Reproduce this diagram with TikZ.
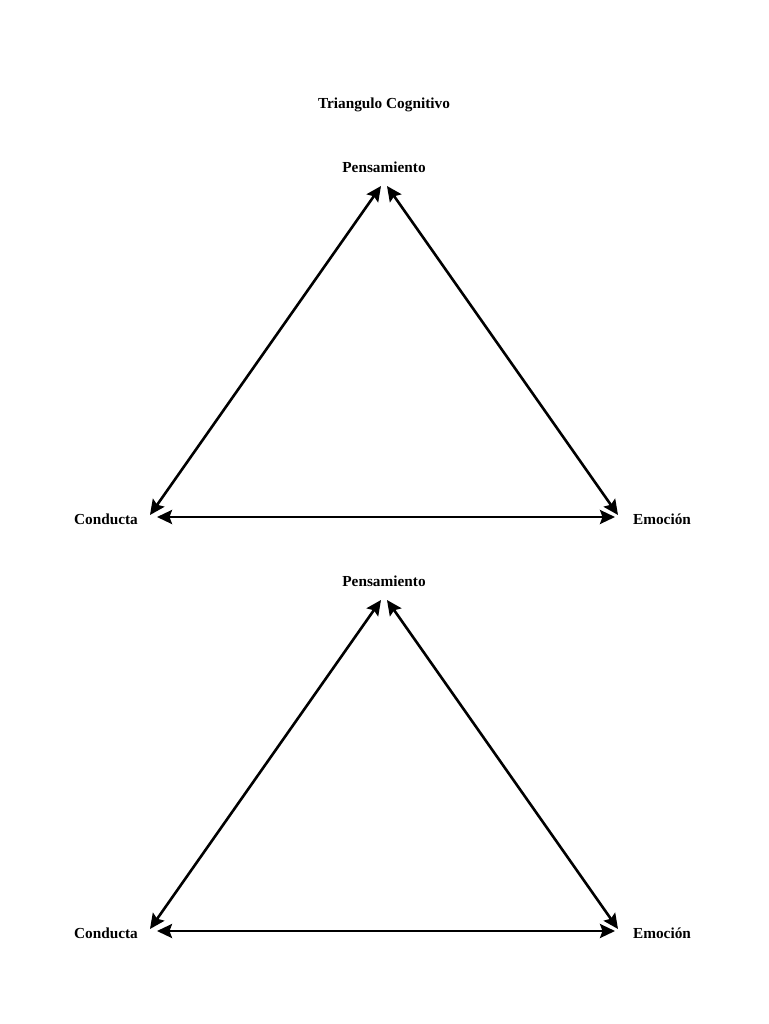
\documentclass[tikz,border=0pt]{standalone}
\usepackage{fontspec}
\setmainfont{Liberation Serif}
\usetikzlibrary{arrows.meta}
\tikzset{
  lbl/.style={font=\bfseries\fontsize{15.3}{17}\selectfont, inner sep=0pt},
  tip/.tip={Stealth[length=15pt,width=14pt,inset=2.5pt,fill=black]},
  edge/.style={line width=2.6pt, tip-tip}
}
\begin{document}
\begin{tikzpicture}[x=1pt,y=-1pt]
\useasboundingbox[fill=white] (0,0) rectangle (768,1024);
\node[lbl] (title) at (384,105) {Triangulo Cognitivo};
\foreach \dy/\t in {0/a,414/b}{
  \node[lbl] (pens\t) at (384,167+\dy) {Pensamiento};
  \node[lbl] (cond\t) at (106,519+\dy) {Conducta};
  \node[lbl] (emoc\t) at (662,519+\dy) {Emoción};
  \coordinate (topL\t) at (381,186+\dy);
  \coordinate (topR\t) at (387,186+\dy);
  \coordinate (botL\t) at (150,515+\dy);
  \coordinate (botR\t) at (618,515+\dy);
  \coordinate (horL\t) at (157,517+\dy);
  \coordinate (horR\t) at (615,517+\dy);
  \draw[edge] (botL\t) -- (topL\t);
  \draw[edge] (topR\t) -- (botR\t);
  \draw[edge] (horL\t) -- (horR\t);
}
\end{tikzpicture}
\end{document}
